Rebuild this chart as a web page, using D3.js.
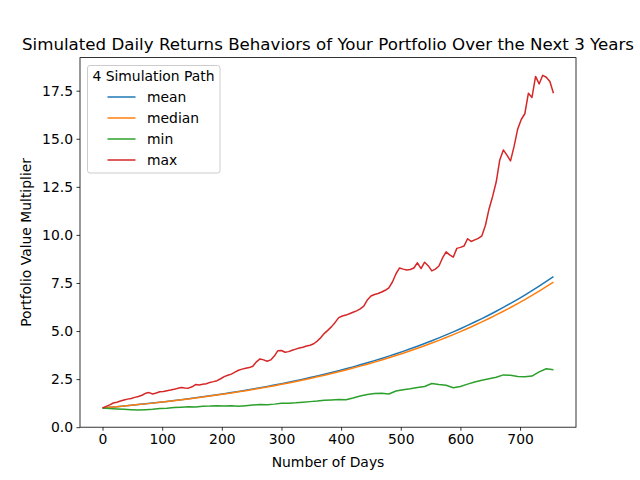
<!DOCTYPE html>
<html>
<head>
<meta charset="utf-8">
<script src="https://cdn.jsdelivr.net/npm/d3@7"></script>
<style>
  html, body { margin: 0; padding: 0; background: #fff; }
  svg { display: block; }
  text { font-family: "DejaVu Sans", sans-serif; fill: #000; }
</style>
</head>
<body>
<svg id="chart" width="640" height="480"></svg>
<script>
// ---------- data ----------
const days = [0,12,24,36,48,60,72,84,96,108,120,132,144,156,168,180,192,204,216,228,240,252,264,276,288,300,312,324,336,348,360,372,384,396,408,420,432,444,456,468,480,492,504,516,528,540,552,564,576,588,600,612,624,636,648,660,672,684,696,708,720,732,744,756];

const meanValues = [1.000,1.033,1.068,1.103,1.140,1.178,1.217,1.257,1.299,1.342,1.387,1.433,1.480,1.530,1.580,1.633,1.687,1.743,1.801,1.861,1.923,1.986,2.052,2.121,2.191,2.264,2.339,2.416,2.497,2.580,2.665,2.754,2.845,2.940,3.037,3.138,3.243,3.350,3.461,3.576,3.695,3.818,3.945,4.076,4.211,4.351,4.495,4.644,4.799,4.958,5.122,5.292,5.468,5.650,5.837,6.031,6.231,6.438,6.652,6.873,7.101,7.336,7.580,7.831];

const medianValues = [1.000,1.032,1.067,1.101,1.137,1.175,1.213,1.252,1.293,1.335,1.379,1.424,1.470,1.518,1.567,1.619,1.671,1.726,1.782,1.840,1.901,1.962,2.026,2.093,2.160,2.231,2.304,2.378,2.456,2.536,2.619,2.704,2.792,2.884,2.977,3.074,3.175,3.278,3.384,3.495,3.609,3.726,3.849,3.974,4.103,4.237,4.375,4.517,4.665,4.816,4.973,5.135,5.302,5.475,5.653,5.838,6.028,6.225,6.427,6.637,6.853,7.076,7.306,7.545];

const minValues = [1.00,0.97,0.95,0.93,0.91,0.89,0.91,0.93,0.97,0.99,1.02,1.04,1.06,1.05,1.09,1.10,1.12,1.10,1.11,1.09,1.12,1.15,1.18,1.17,1.20,1.24,1.25,1.27,1.30,1.33,1.36,1.40,1.42,1.44,1.43,1.52,1.62,1.70,1.75,1.76,1.73,1.88,1.95,2.00,2.06,2.12,2.27,2.22,2.18,2.05,2.12,2.24,2.35,2.44,2.52,2.60,2.72,2.70,2.64,2.62,2.66,2.88,3.04,2.99];

// the max path is read at a finer day step
const maxDays = [0,6,12,18,24,30,36,42,48,54,60,66,72,78,84,90,96,102,108,114,120,126,132,138,144,150,156,162,168,174,180,186,192,198,204,210,216,222,228,234,240,246,252,258,264,270,276,282,288,294,300,306,312,318,324,330,336,342,348,354,360,366,372,378,384,390,396,402,408,414,420,426,432,438,444,450,456,462,468,474,480,486,492,498,504,510,516,522,528,534,540,546,552,558,564,570,576,582,588,594,600,606,612,618,624,630,636,642,648,654,660,666,672,678,684,690,696,702,708,714,720,726,732,738,744,750,756];

const maxValues = [1.00,1.08,1.16,1.26,1.30,1.36,1.41,1.46,1.49,1.55,1.60,1.66,1.76,1.80,1.73,1.78,1.84,1.86,1.90,1.93,1.97,2.02,2.06,2.04,2.03,2.10,2.22,2.20,2.23,2.26,2.33,2.37,2.42,2.52,2.63,2.70,2.76,2.86,2.96,3.02,3.06,3.10,3.17,3.40,3.55,3.50,3.43,3.50,3.70,3.98,3.99,3.90,3.93,4.00,4.06,4.12,4.16,4.22,4.26,4.34,4.48,4.66,4.88,5.05,5.23,5.45,5.70,5.78,5.83,5.90,5.98,6.05,6.15,6.30,6.62,6.82,6.90,6.95,7.03,7.12,7.25,7.55,7.98,8.28,8.22,8.18,8.20,8.28,8.55,8.25,8.58,8.40,8.13,8.22,8.38,8.80,9.12,8.96,8.84,9.30,9.35,9.42,9.80,9.66,9.74,9.82,9.95,10.50,11.35,12.00,12.75,13.90,14.42,14.15,13.85,14.60,15.50,16.00,16.30,17.37,17.15,18.24,17.85,18.30,18.20,17.98,17.37];

const seriesNames = ["mean","median","min","max"];
const seriesColors = ["#1f77b4","#ff7f0e","#2ca02c","#d62728"];
const xTicks = [0,100,200,300,400,500,600,700];
const yTicks = [0.0,2.5,5.0,7.5,10.0,12.5,15.0,17.5];
const titleText = "Simulated Daily Returns Behaviors of Your Portfolio Over the Next 3 Years";
const xLabel = "Number of Days";
const yLabel = "Portfolio Value Multiplier";
const legendTitle = "4 Simulation Path";

// ---------- layout ----------
const svg = d3.select("#chart");
const L = 80, R = 576, T = 57.6, B = 427.2;

const x = d3.scaleLinear().domain([-37.8, 793.8]).range([L, R]);
const y = d3.scaleLinear().domain([0, 19.22]).range([B, T]);

const allSeries = [
  { xs: days, vs: meanValues },
  { xs: days, vs: medianValues },
  { xs: days, vs: minValues },
  { xs: maxDays, vs: maxValues }
];

const plot = svg.append("g");
plot.append("clipPath").attr("id", "clip")
  .append("rect").attr("x", L).attr("y", T).attr("width", R - L).attr("height", B - T);

allSeries.forEach((s, k) => {
  const line = d3.line().x((d, i) => x(s.xs[i])).y(d => y(d));
  plot.append("path")
    .datum(s.vs)
    .attr("d", line)
    .attr("fill", "none")
    .attr("stroke", seriesColors[k])
    .attr("stroke-width", 1.5)
    .attr("stroke-linejoin", "round")
    .attr("clip-path", "url(#clip)");
});

// axes
const xAxis = d3.axisBottom(x).tickValues(xTicks).tickFormat(d3.format("d"))
  .tickSizeInner(3.5).tickSizeOuter(0).tickPadding(3.5);
const yAxis = d3.axisLeft(y).tickValues(yTicks).tickFormat(d3.format(".1f"))
  .tickSizeInner(3.5).tickSizeOuter(0).tickPadding(3.5);

const gx = svg.append("g").attr("transform", `translate(0,${B})`).call(xAxis);
const gy = svg.append("g").attr("transform", `translate(${L},0)`).call(yAxis);
[gx, gy].forEach(g => {
  g.select(".domain").remove();
  g.selectAll(".tick line").attr("stroke", "#000").attr("stroke-width", 0.8);
  g.selectAll(".tick text").attr("font-family", "DejaVu Sans").attr("font-size", "13.9px").attr("fill", "#000");
});

// spines
svg.append("rect").attr("x", L).attr("y", T).attr("width", R - L).attr("height", B - T)
  .attr("fill", "none").attr("stroke", "#000").attr("stroke-width", 0.8);

// title and labels
svg.append("text").attr("x", (L + R) / 2).attr("y", 50).attr("text-anchor", "middle")
  .attr("font-size", "16.67px").text(titleText);
svg.append("text").attr("x", (L + R) / 2).attr("y", 467).attr("text-anchor", "middle")
  .attr("font-size", "13.9px").text(xLabel);
svg.append("text").attr("transform", `translate(31,${(T + B) / 2}) rotate(-90)`)
  .attr("text-anchor", "middle").attr("font-size", "13.9px").text(yLabel);

// legend
const lg = svg.append("g");
lg.append("rect").attr("x", 87.5).attr("y", 65.5).attr("width", 132.5).attr("height", 107.5)
  .attr("rx", 2.5).attr("fill", "#fff").attr("fill-opacity", 0.8)
  .attr("stroke", "#cccccc").attr("stroke-width", 1);
lg.append("text").attr("x", 153.5).attr("y", 81).attr("text-anchor", "middle")
  .attr("font-size", "13.9px").text(legendTitle);
seriesNames.forEach((name, k) => {
  const yy = 97 + k * 21;
  lg.append("line").attr("x1", 107.5).attr("x2", 135.5).attr("y1", yy).attr("y2", yy)
    .attr("stroke", seriesColors[k]).attr("stroke-width", 1.5);
  lg.append("text").attr("x", 147).attr("y", yy + 5).attr("font-size", "13.9px").text(name);
});
</script>
</body>
</html>
